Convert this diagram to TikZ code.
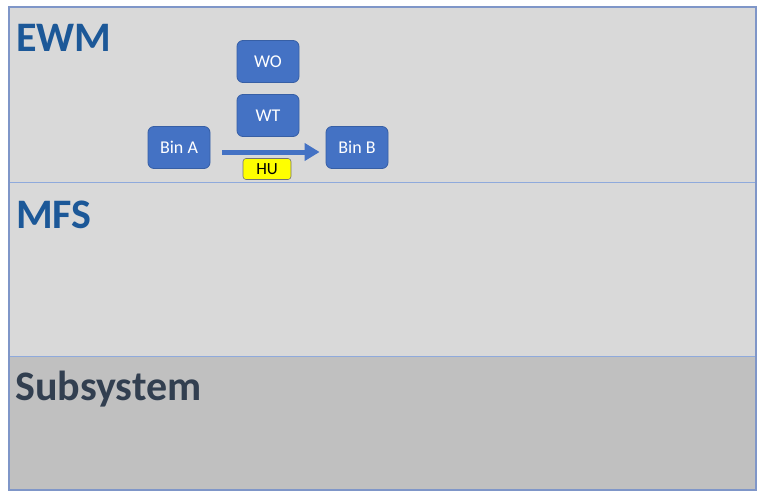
\documentclass[tikz,border=0pt]{standalone}
\usepackage{fontspec}
\setmainfont{Carlito}
\usetikzlibrary{arrows.meta}
\definecolor{bandgray}{RGB}{217,217,217}
\definecolor{subgray}{RGB}{192,192,192}
\definecolor{bandline}{RGB}{143,170,220}
\definecolor{outerline}{RGB}{127,150,200}
\definecolor{titleblue}{RGB}{28,88,152}
\definecolor{titledark}{RGB}{50,63,80}
\definecolor{boxblue}{RGB}{68,114,196}
\definecolor{boxedge}{RGB}{55,95,165}
\definecolor{huyellow}{RGB}{255,255,0}
\tikzset{
  bandbox/.style={draw=bandline, line width=1pt},
  title/.style={anchor=base west, font=\fontsize{42}{44}\selectfont\bfseries, inner sep=0pt},
  objbox/.style={draw=boxedge, line width=0.8pt, fill=boxblue, rounded corners=6pt,
    minimum width=62pt, minimum height=42pt, inner sep=0pt, text=white,
    font=\fontsize{18}{20}\selectfont},
  hubox/.style={draw=black!55, line width=0.6pt, fill=huyellow, rounded corners=3pt,
    minimum width=48pt, minimum height=21pt, inner sep=0pt, text=black,
    font=\fontsize{17}{19}\selectfont},
  flow/.style={draw=boxblue, line width=5pt, -{Triangle[length=15pt,width=17pt]}}
}
\begin{document}
\begin{tikzpicture}[x=1pt,y=-1pt]
\useasboundingbox (0,0) rectangle (768,500);
\fill[white] (0,0) rectangle (768,500);
% bands
\fill[bandgray] (9,7) rectangle (756,182);
\fill[bandgray] (9,182) rectangle (756,356);
\fill[subgray] (9,356) rectangle (756,490);
\draw[bandbox] (9,182) -- (756,182);
\draw[bandbox] (9,356) -- (756,356);
\draw[draw=outerline, line width=1.3pt] (9,7) rectangle (756,490);
% titles
\node[title, text=titleblue] (ewm) at (16,52) {EWM};
\node[title, text=titleblue] (mfs) at (16,228) {MFS};
\node[title, text=titledark] (sub) at (15,400) {Subsystem};
% objects
\node[objbox] (wo) at (268,61.5) {WO};
\node[objbox] (wt) at (268,115.5) {WT};
\node[objbox] (bina) at (179,147.5) {Bin A};
\node[objbox] (binb) at (357,147.5) {Bin B};
\draw[flow, shorten <=12pt, shorten >=6pt] ([yshift=-4.5pt]bina.east) -- ([yshift=-4.5pt]binb.west);
\node[hubox] (hu) at (267,169) {HU};
\end{tikzpicture}
\end{document}
